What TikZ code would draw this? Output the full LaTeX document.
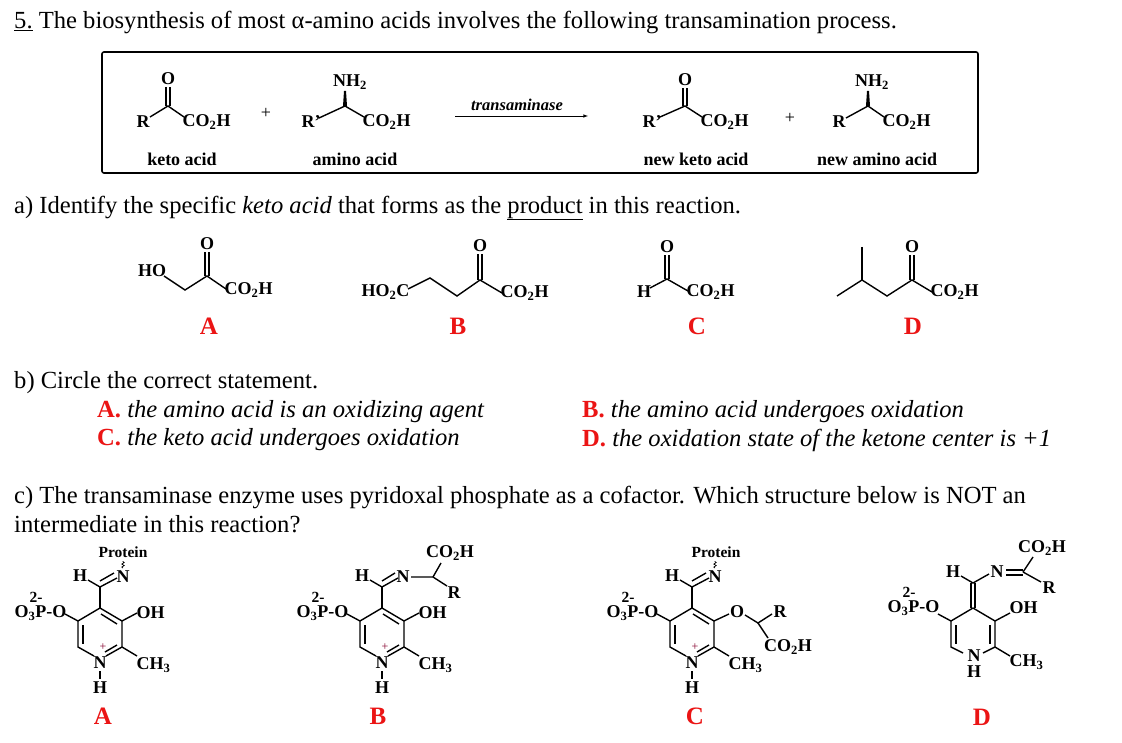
\documentclass[tikz,border=0pt]{standalone}
\usepackage{fontspec}
\setmainfont{Liberation Serif}
\usetikzlibrary{decorations.pathmorphing}
\definecolor{myred}{RGB}{235,20,20}
\tikzset{
  atm/.style={font=\bfseries\fontsize{18}{18}\selectfont, inner sep=0.5pt},
  sm/.style={font=\bfseries\fontsize{15.5}{15.5}\selectfont, inner sep=0.5pt},
  bd/.style={line width=1.4pt},
  txt/.style={font=\fontsize{24.6}{26}\selectfont, inner sep=0pt, anchor=west},
  st/.style={font=\itshape\fontsize{24.6}{26}\selectfont, inner sep=0pt, anchor=west},
  lett/.style={font=\bfseries\fontsize{25}{25}\selectfont, text=myred, inner sep=0pt},
  wav/.style={line width=0.7pt, decorate, decoration={snake, amplitude=1.2pt, segment length=3pt}}
}
\newcommand{\rd}[1]{\textcolor{myred}{\textbf{#1}}}
\newcommand{\sbb}[1]{\textsubscript{\bfseries #1}}
\begin{document}
\begin{tikzpicture}[x=1pt,y=-1pt]
\useasboundingbox (0,0) rectangle (1122,743);
\fill[white] (0,0) rectangle (1122,743);
% title
\node[txt] (title) at (14,22) {\underline{5.} The biosynthesis of most α-amino acids involves the following transamination process.};
% box
\draw[line width=1.6pt, rounded corners=2pt] (102,52) rectangle (978,173);
% keto acid
\node[atm] (kR) at (143,122) {R};
\node[atm,anchor=west] (kC) at (182,122) {CO\sbb{2}H};
\node[atm] (kO) at (168,79) {O};
\draw[bd] (150,117) -- (168,106) -- (184,117);
\draw[bd] (166,106) -- (166,87); \draw[bd] (170,106) -- (170,87);
\node[font=\fontsize{18}{18}\selectfont] (p1) at (266,113) {+};
% amino acid
\node[atm] (aN) at (350,82) {NH\sbb{2}};
\node[atm] (aR) at (311,122) {R'};
\node[atm,anchor=west] (aC) at (362,122) {CO\sbb{2}H};
\draw[bd] (319,118) -- (345,106) -- (364,117);
\fill (343,106) -- (347,106) -- (346,91) -- (344,91) -- cycle;
% arrow
\draw[-latex, line width=0.6pt] (455,116) -- (588,116);
\node[font=\bfseries\itshape\fontsize{16.5}{16.5}\selectfont] (tr) at (517,105) {transaminase};
% new keto acid
\node[atm] (nR) at (652,122) {R'};
\node[atm,anchor=west] (nC) at (700,122) {CO\sbb{2}H};
\node[atm] (nO) at (685,80) {O};
\draw[bd] (660,117) -- (685,106) -- (702,117);
\draw[bd] (683,106) -- (683,88); \draw[bd] (687,106) -- (687,88);
\node[font=\fontsize{18}{18}\selectfont] (p2) at (790,118) {+};
% new amino acid
\node[atm] (mN) at (872,82) {NH\sbb{2}};
\node[atm] (mR) at (839,122) {R};
\node[atm,anchor=west] (mC) at (882,122) {CO\sbb{2}H};
\draw[bd] (846,118) -- (868,106) -- (884,117);
\fill (866,106) -- (870,106) -- (869,91) -- (867,91) -- cycle;
\node[atm] (l1) at (182,159) {keto acid};
\node[atm] (l2) at (355,159) {amino acid};
\node[atm] (l3) at (696,159) {new keto acid};
\node[atm] (l4) at (877,159) {new amino acid};
% part a
\node[txt] (qa) at (14,208) {a) Identify the specific \textit{keto acid} that forms as the \underline{product} in this reaction.};
% A
\node[atm] (aHO) at (152,271) {HO};
\draw[bd] (164,276) -- (185,290) -- (207,276) -- (226,289);
\draw[bd] (205,276) -- (205,252); \draw[bd] (209,276) -- (209,252);
\node[atm] (aO) at (207,244) {O};
\node[atm,anchor=west] (aCO) at (224,290) {CO\sbb{2}H};
\node[lett] (LA) at (209,326) {A};
% B
\node[atm,anchor=east] (bHO) at (410,292) {HO\sbb{2}C};
\draw[bd] (408,289) -- (430,278) -- (457,296) -- (480,280) -- (502,293);
\draw[bd] (478,280) -- (478,254); \draw[bd] (482,280) -- (482,254);
\node[atm] (bO) at (480,246) {O};
\node[atm,anchor=west] (bCO) at (500,293) {CO\sbb{2}H};
\node[lett] (LB) at (458,326) {B};
% C
\node[atm] (cH) at (644,292) {H};
\draw[bd] (650,288) -- (667,279) -- (688,291);
\draw[bd] (665,279) -- (665,255); \draw[bd] (669,279) -- (669,255);
\node[atm] (cO) at (667,247) {O};
\node[atm,anchor=west] (cCO) at (686,292) {CO\sbb{2}H};
\node[lett] (LC) at (697,326) {C};
% D
\draw[bd] (862,247) -- (862,280);
\draw[bd] (837,296) -- (862,280) -- (887,296) -- (912,280) -- (932,292);
\draw[bd] (910,280) -- (910,255); \draw[bd] (914,280) -- (914,255);
\node[atm] (dO) at (912,247) {O};
\node[atm,anchor=west] (dCO) at (930,292) {CO\sbb{2}H};
\node[lett] (LD) at (913,326) {D};
% part b
\node[txt] (qb) at (14,383) {b) Circle the correct statement.};
\node[st] (sA) at (97,412) {\rd{\upshape A.} the amino acid is an oxidizing agent};
\node[st] (sC) at (97,440) {\rd{\upshape C.} the keto acid undergoes oxidation};
\node[st] (sB) at (582,412) {\rd{\upshape B.} the amino acid undergoes oxidation};
\node[st] (sD) at (582,440) {\rd{\upshape D.} the oxidation state of the ketone center is +1};
% part c
\node[txt] (qc1) at (14,497) {c) The transaminase enzyme uses pyridoxal phosphate as a cofactor. Which structure below is NOT an};
\node[txt] (qc2) at (14,524) {intermediate in this reaction?};
% PLP rings A,B,C
\foreach \dx in {0,282,592}{
\begin{scope}[xshift=\dx]
\draw[bd] (100,608) -- (122,621) -- (122,647) -- (106,656);
\draw[bd] (94,656) -- (78,647) -- (78,621) -- (100,608);
\draw[bd] (101,614) -- (117,624);
\draw[bd] (117,645) -- (105,652);
\draw[bd] (83,625) -- (83,644);
\node[atm] at (100,663) {N};
\node[font=\fontsize{12}{12}\selectfont, text=purple!70!black] at (103,647) {+};
\draw[bd] (100,671) -- (100,679);
\node[atm] at (100,688) {H};
\draw[bd] (78,621) -- (65,614);
\node[atm,anchor=east] at (67,613) {O\sbb{3}P-O};
\node[sm] at (36,597) {2-};
\draw[bd] (122,647) -- (137,656);
\node[atm,anchor=west] at (136,665) {CH\sbb{3}};
\draw[bd] (100,608) -- (100,587);
\draw[bd] (88,580) -- (100,587);
\node[atm] at (80,576) {H};
\end{scope}}
% A specifics
\draw[bd] (100,587) -- (117,578); \draw[bd] (100,581) -- (114,573);
\node[atm] (AN) at (123,577) {N};
\draw[wav] (123,568) -- (123,561);
\node[sm] (AP) at (123,552) {Protein};
\draw[bd] (122,621) -- (137,613);
\node[atm,anchor=west] at (136,613) {OH};
\node[lett] (LcA) at (103,716) {A};
% B specifics
\draw[bd] (382,587) -- (398,578); \draw[bd] (382,581) -- (395,573);
\node[atm] (BN) at (403,577) {N};
\draw[bd] (411,577) -- (433,577) -- (441,563);
\draw[bd] (433,577) -- (447,586);
\node[atm] at (450,553) {CO\sbb{2}H};
\node[atm] at (454,593) {R};
\draw[bd] (404,621) -- (419,613);
\node[atm,anchor=west] at (418,613) {OH};
\node[lett] (LcB) at (378,716) {B};
% C specifics
\draw[bd] (692,587) -- (709,578); \draw[bd] (692,581) -- (706,573);
\node[atm] (CN) at (715,577) {N};
\draw[wav] (715,568) -- (715,561);
\node[sm] (CP) at (716,552) {Protein};
\draw[bd] (714,621) -- (729,614);
\node[atm] at (737,612) {O};
\draw[bd] (745,615) -- (758,623) -- (772,614);
\draw[bd] (758,623) -- (768,638);
\node[atm] at (780,612) {R};
\node[atm] at (788,647) {CO\sbb{2}H};
\node[lett] (LcC) at (695,716) {C};
% D
\begin{scope}[xshift=873]
\draw[bd] (100,608) -- (122,621) -- (122,647) -- (110,653);
\draw[bd] (90,653) -- (78,647) -- (78,621) -- (100,608);
\draw[bd] (117,625) -- (117,644);
\draw[bd] (83,625) -- (83,644);
\node[atm] at (101,656) {N};
\node[atm] at (101,672) {H};
\draw[bd] (78,621) -- (65,614);
\node[atm,anchor=east] at (67,608) {O\sbb{3}P-O};
\node[sm] at (36,592) {2-};
\draw[bd] (122,647) -- (137,656);
\node[atm,anchor=west] at (136,662) {CH\sbb{3}};
\draw[bd] (122,621) -- (137,613);
\node[atm,anchor=west] at (136,608) {OH};
\draw[bd] (98,608) -- (98,583); \draw[bd] (102,608) -- (102,583);
\draw[bd] (88,576) -- (100,583) -- (116,574);
\node[atm] at (80,572) {H};
\node[atm] at (124,572) {N};
\draw[bd] (133,570) -- (150,570); \draw[bd] (133,575) -- (150,575);
\draw[bd] (150,572) -- (160,557);
\draw[bd] (150,572) -- (168,582);
\node[atm] at (169,548) {CO\sbb{2}H};
\node[atm] at (176,588) {R};
\node[lett] at (109,717) {D};
\end{scope}
\end{tikzpicture}
\end{document}
